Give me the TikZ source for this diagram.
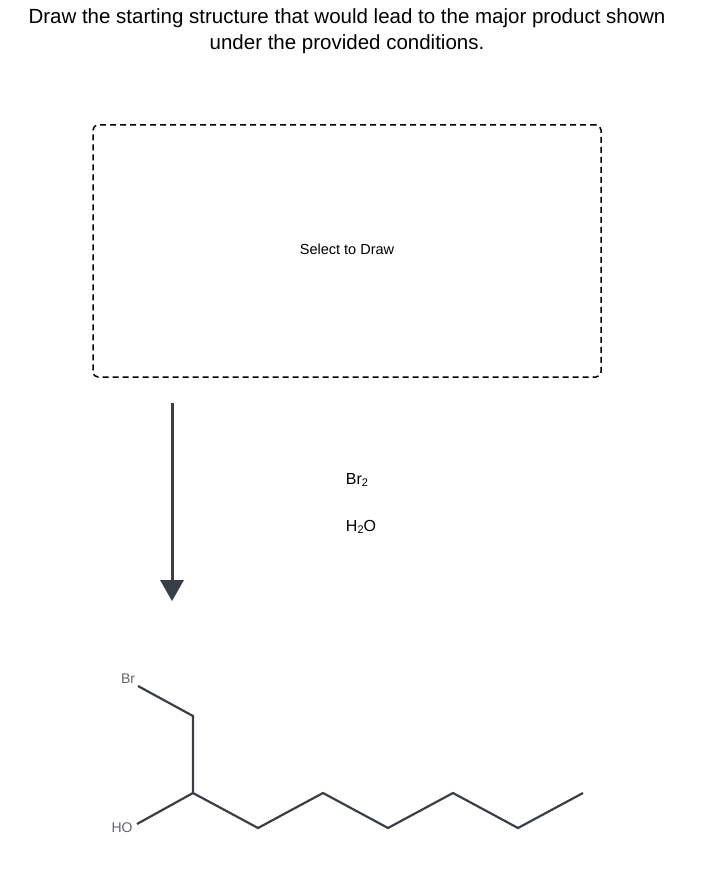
\documentclass[tikz,border=0pt]{standalone}
\usepackage{fontspec}
\setmainfont{Liberation Sans}
\definecolor{ink}{HTML}{3A3F47}
\begin{document}
\begin{tikzpicture}[x=1pt,y=-1pt,
  bond/.style={draw=ink,line width=2.2pt},
  lbl/.style={font=\fontsize{14}{16}\selectfont,text=ink!80,inner sep=1pt}]
\useasboundingbox (0,0) rectangle (705,877);
\node (t1) at (347,18) {\fontsize{20.5}{24}\selectfont Draw the starting structure that would lead to the major product shown};
\node (t2) at (347,44) {\fontsize{20.5}{24}\selectfont under the provided conditions.};
\node (box) [draw=black,dashed,line width=1.5pt,rounded corners=5pt,dash pattern=on 6pt off 4pt,minimum width=508pt,minimum height=252pt] at (347,251) {};
\node (sel) at (347,249) {\fontsize{14.5}{17}\selectfont Select to Draw};
\coordinate (a1) at (172,403);
\coordinate (a2) at (172,582);
\draw[ink,line width=3pt] (a1) -- (a2);
\fill[ink] (160,580) -- (184,580) -- (172,601) -- cycle;
\node (br2) at (357,480) {\fontsize{16}{19}\selectfont Br\raisebox{-0.2ex}{\fontsize{11}{13}\selectfont 2}};
\node (h2o) at (361,527) {\fontsize{16}{19}\selectfont H\raisebox{-0.2ex}{\fontsize{11}{13}\selectfont 2}O};
\node[lbl] (br) at (128,679) {Br};
\node[lbl] (ho) at (122,828) {HO};
\coordinate (c1) at (193,716);
\coordinate (c2) at (193,793);
\coordinate (c3) at (258,828);
\coordinate (c4) at (323,793);
\coordinate (c5) at (388,828);
\coordinate (c6) at (453,793);
\coordinate (c7) at (518,828);
\coordinate (c8) at (583,793);
\draw[bond] (138,686) -- (c1) -- (c2) -- (c3) -- (c4) -- (c5) -- (c6) -- (c7) -- (c8);
\draw[bond] (137,824) -- (c2);
\end{tikzpicture}
\end{document}
